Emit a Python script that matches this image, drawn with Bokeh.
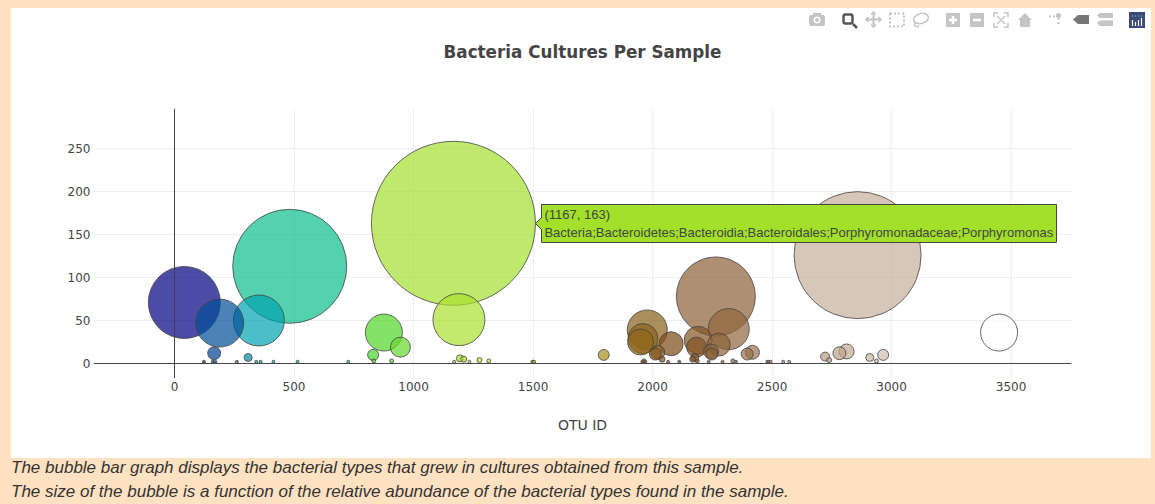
from bokeh.embed import file_html
from bokeh.layouts import column
from bokeh.models import (BoxAnnotation, ColumnDataSource, Div, FixedTicker,
                          GlobalInlineStyleSheet, Label, LinearColorMapper,
                          PolyAnnotation, Span, Title)
from bokeh.plotting import figure
from bokeh.resources import INLINE

# values
otu_ids = [41, 123, 160, 166, 171, 189, 261, 308, 342, 353, 360, 414, 482, 515,
           727, 831, 834, 876, 908, 945, 1167, 1170, 1190, 1194, 1210, 1234,
           1276, 1315, 1497, 1502, 1505, 1796, 1950, 1957, 1960, 1964, 1970,
           1978, 2012, 2022, 2040, 2065, 2078, 2112, 2168, 2177, 2184, 2187,
           2191, 2235, 2245, 2248, 2265, 2277, 2293, 2319, 2336, 2349, 2396,
           2418, 2480, 2486, 2494, 2547, 2572, 2722, 2739, 2782, 2812, 2858,
           2909, 2937, 2965, 3450]
sample_values = [71, 2, 2, 12, 2, 47, 2, 7, 2, 50, 2, 2, 113, 2,
                 2, 10, 3, 36, 3, 19, 163, 2, 51, 6, 5, 2,
                 4, 3, 2, 2, 2, 10, 25, 2, 29, 3, 2,
                 39, 11, 13, 5, 2, 23, 2, 5, 7, 19, 3,
                 27, 2, 14, 11, 78, 22, 2, 40, 3, 2, 11,
                 13, 2, 2, 2, 2, 2, 8, 4, 12, 14, 126,
                 7, 3, 10, 36]
x_ticks = [0, 500, 1000, 1500, 2000, 2500, 3000, 3500]
y_ticks = [0, 50, 100, 150, 200, 250]
hover_otu = 1167
hover_value = 163
hover_label = "Bacteria;Bacteroidetes;Bacteroidia;Bacteroidales;Porphyromonadaceae;Porphyromonas"
notes = [
    "The bubble bar graph displays the bacterial types that grew in cultures obtained from this sample.",
    "The size of the bubble is a function of the relative abundance of the bacterial types found in the sample.",
]

PAGE_BG = "#ffe2c2"
TEXT = "#444444"
FONT = "DejaVu Sans"

# plotly's Earth colorscale, spread over 256 steps
stops = [(0.0, (0, 0, 130)), (0.1, (0, 180, 180)), (0.2, (40, 210, 40)),
         (0.4, (230, 230, 50)), (0.6, (120, 70, 20)), (1.0, (255, 255, 255))]
earth = []
for i in range(256):
    t = i / 255
    for (t0, c0), (t1, c1) in zip(stops, stops[1:]):
        if t <= t1:
            f = (t - t0) / (t1 - t0)
            earth.append("#%02x%02x%02x" % tuple(round(a + (b - a) * f) for a, b in zip(c0, c1)))
            break

# biggest first so the small bubbles stay on top
order = sorted(range(len(otu_ids)), key=lambda i: -sample_values[i])
source = ColumnDataSource(data=dict(
    x=[otu_ids[i] for i in order],
    y=[sample_values[i] for i in order],
    d=[sample_values[i] + 1 for i in order],
))
mapper = LinearColorMapper(palette=earth, low=min(otu_ids), high=max(otu_ids))

p = figure(width=1140, height=450, output_backend="svg", toolbar_location=None,
           x_range=(-339, 3753), y_range=(-17.44, 296.5),
           title="Bacteria Cultures Per Sample", x_axis_label="OTU ID",
           min_border_left=82, min_border_right=80, min_border_top=100, min_border_bottom=80,
           background_fill_color="white", border_fill_color="white",
           outline_line_color=None, margin=(8, 0, 0, 11),
           styles={"background-color": "white"})

p.title.align = "center"
p.title.text_font = FONT
p.title.text_font_size = "16.8px"
p.title.text_font_style = "bold"
p.title.text_color = TEXT
p.title.standoff = 52
# blank title below the real one, keeps the gap down to the frame
p.add_layout(Title(text=" ", text_font_size="1px", standoff=18), "above")

p.xaxis.ticker = FixedTicker(ticks=x_ticks)
p.yaxis.ticker = FixedTicker(ticks=y_ticks)
for ax in (p.xaxis[0], p.yaxis[0]):
    ax.axis_line_color = None
    ax.major_tick_line_color = None
    ax.minor_tick_line_color = None
    ax.major_tick_out = 0
    ax.major_tick_in = 0
    ax.minor_tick_out = 0
    ax.major_label_text_font = FONT
    ax.major_label_text_font_size = "12px"
    ax.major_label_text_color = TEXT
p.xaxis.major_label_standoff = 3
p.yaxis.major_label_standoff = 3
p.xaxis.axis_label_text_font = FONT
p.xaxis.axis_label_text_font_size = "14px"
p.xaxis.axis_label_text_font_style = "normal"
p.xaxis.axis_label_text_color = TEXT
p.xaxis.axis_label_standoff = 23
p.grid.grid_line_color = "#eeeeee"
p.grid.grid_line_width = 1

p.add_layout(Span(location=0, dimension="width", line_color=TEXT, line_width=1))
p.add_layout(Span(location=0, dimension="height", line_color=TEXT, line_width=1))

p.scatter("x", "y", size="d", source=source,
          fill_color={"field": "x", "transform": mapper}, fill_alpha=0.7,
          line_color="#444444", line_alpha=0.8, line_width=1)

# hover box, positions are pixels from the frame's lower left corner
tip_fill = "#a2e02a"
p.add_layout(BoxAnnotation(left=448, right=963, bottom=136, top=174,
                           left_units="screen", right_units="screen", top_units="screen", bottom_units="screen",
                           fill_color=tip_fill, fill_alpha=1, line_color=TEXT, line_alpha=1, line_width=1))
p.add_layout(PolyAnnotation(xs=[442, 448, 448], ys=[155, 149, 161], xs_units="screen", ys_units="screen",
                            fill_color=tip_fill, fill_alpha=1, line_color=TEXT, line_alpha=1))
p.add_layout(BoxAnnotation(left=447.5, right=449.5, bottom=149.5, top=160.5,
                           left_units="screen", right_units="screen", top_units="screen", bottom_units="screen",
                           fill_color=tip_fill, fill_alpha=1, line_color=None))
p.add_layout(Label(x=hover_otu, y=hover_value, x_offset=91, y_offset=9,
                   text="(%d, %d)" % (hover_otu, hover_value), text_font="Liberation Sans",
                   text_font_size="13px", text_color=TEXT, text_baseline="middle"))
p.add_layout(Label(x=hover_otu, y=hover_value, x_offset=91, y_offset=-9,
                   text=hover_label, text_font="Liberation Sans",
                   text_font_size="13px", text_color=TEXT, text_baseline="middle"))

# plotly modebar, plain svg pinned to the window
G = "#c4c4c4"
modebar = f"""<svg width="1155" height="32" style="position:fixed;left:0;top:0;pointer-events:none">
<rect x="809" y="15" width="16" height="11" rx="2" fill="{G}"/><rect x="813" y="13" width="8" height="3" fill="{G}"/>
<circle cx="817" cy="20" r="3.5" fill="white"/><circle cx="817" cy="20" r="2" fill="{G}"/>
<rect x="843.5" y="14.5" width="9" height="9" rx="2" fill="none" stroke="#555" stroke-width="2.5"/>
<path d="M853 24 L857 28" stroke="#555" stroke-width="2.5"/>
<path d="M873.5 12 V27 M866 19.5 H881" stroke="{G}" stroke-width="2"/>
<path d="M871 14.5 L873.5 12 L876 14.5 M871 24.5 L873.5 27 L876 24.5 M868.5 17 L866 19.5 L868.5 22 M878.5 17 L881 19.5 L878.5 22" fill="none" stroke="{G}" stroke-width="1.5"/>
<rect x="890" y="13.5" width="14" height="13" fill="none" stroke="{G}" stroke-width="2" stroke-dasharray="2 2"/>
<ellipse cx="921" cy="18.5" rx="7.5" ry="5" fill="none" stroke="{G}" stroke-width="1.5" transform="rotate(-15 921 18.5)"/>
<path d="M916 22 C913 24 915 28 919 26" fill="none" stroke="{G}" stroke-width="1.5"/>
<rect x="946" y="13" width="14" height="14" fill="{G}"/><path d="M949 20 H957 M953 16 V24" stroke="white" stroke-width="2.5"/>
<rect x="970" y="13" width="14" height="14" fill="{G}"/><path d="M973 20 H981" stroke="white" stroke-width="2.5"/>
<path d="M994 17 V13 H998 M1004 13 H1008 V17 M1008 23 V27 H1004 M998 27 H994 V23 M997 16 L1005 24 M1005 16 L997 24" fill="none" stroke="{G}" stroke-width="1.5"/>
<path d="M1018 20 L1025 13 L1032 20 L1030 20 L1030 27 L1020 27 L1020 20 Z" fill="{G}"/>
<path d="M1049 16.5 H1058" stroke="{G}" stroke-width="2" stroke-dasharray="2 2"/><circle cx="1058.5" cy="15.5" r="2.5" fill="{G}"/><path d="M1058.5 18 V25" stroke="{G}" stroke-width="2" stroke-dasharray="2 2"/>
<path d="M1073 19.5 L1078 15 H1089 V24 H1078 Z" fill="#777"/>
<path d="M1097 15.5 L1100 13 H1113 V18 H1100 Z M1097 23 L1100 20.5 H1113 V26 H1100 Z" fill="{G}"/>
<rect x="1129" y="12" width="16" height="16" fill="#3d4a7a"/>
<path d="M1132.5 20 V26 M1135.5 22 V26 M1138.5 20 V26 M1141.5 18 V26" stroke="white" stroke-width="1.2"/>
<path d="M1132 16 H1142" stroke="#6fd0c8" stroke-width="1.2" stroke-dasharray="1.2 1.8"/>
</svg>"""
modebar_div = Div(text=modebar, width=0, height=0, margin=(0, 0, 0, 0))

note_divs = [Div(text=t, width=1140, height=h, margin=(0, 0, 0, 11),
                 styles={"font-family": "Liberation Sans", "font-style": "italic",
                         "font-size": "17px", "color": "#333333", "line-height": "20px"})
             for t, h in zip(notes, [24, 22])]

page = column(p, *note_divs, modebar_div, spacing=0,
              stylesheets=[GlobalInlineStyleSheet(css="body { background: %s; }" % PAGE_BG)])

open("out.html", "w").write(file_html(page, INLINE))
